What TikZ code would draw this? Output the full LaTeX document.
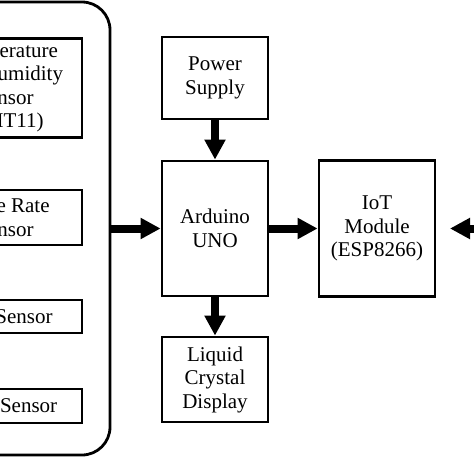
\documentclass[tikz,border=0pt]{standalone}
\usepackage{fontspec}
\setmainfont{Liberation Serif}
\usetikzlibrary{arrows.meta,positioning}
\tikzstyle{block}=[draw,line width=2.8pt,align=center,inner sep=0pt,
  font=\fontsize{21}{23.5}\selectfont]
\tikzstyle{sensor}=[block,minimum width=154pt]
\tikzstyle{flow}=[draw,line width=8pt,-{Triangle[length=20pt,width=20pt]}]

\begin{document}
\begin{tikzpicture}[x=1pt,y=-1pt]
      \useasboundingbox (0,0) rectangle (474,474);
      % sensor group
      \node[draw,line width=2.8pt,rounded corners=28pt,minimum width=210pt,minimum height=453pt] (group) at (5,228.5) {};
      \node[sensor,minimum height=99pt] (dht) at (5,88) {Temperature\\and Humidity\\Sensor\\(DHT11)};
      \node[sensor,minimum height=55pt] (pulse) at (5,217.5) {Pulse Rate\\Sensor};
      \node[sensor,minimum height=33pt] (gas) at (5,316.5) {Gas Sensor};
      \node[sensor,minimum height=34pt] (ecg) at (5,406) {ECG Sensor};
      % main blocks
      \node[block,minimum width=106pt,minimum height=82pt] (power) at (215,78) {Power\\Supply};
      \node[block,minimum width=106pt,minimum height=135pt] (arduino) at (215,228.5) {Arduino\\UNO};
      \node[block,minimum width=106pt,minimum height=85pt] (lcd) at (215,379.5) {Liquid\\Crystal\\Display};
      \node[block,minimum width=116pt,minimum height=136pt] (iot) at (377,228.5) {IoT\\Module\\(ESP8266)};
      \coordinate (cloudtip) at (450,228.5);
      \coordinate (cloud) at (530,228.5);
      % connections
      \draw[flow] (group) -- (arduino);
      \draw[flow] (power) -- (arduino);
      \draw[flow] (arduino) -- (lcd);
      \draw[flow] (arduino) -- (iot);
      \draw[flow] (cloud) -- (cloudtip);
    \end{tikzpicture}
\end{document}
